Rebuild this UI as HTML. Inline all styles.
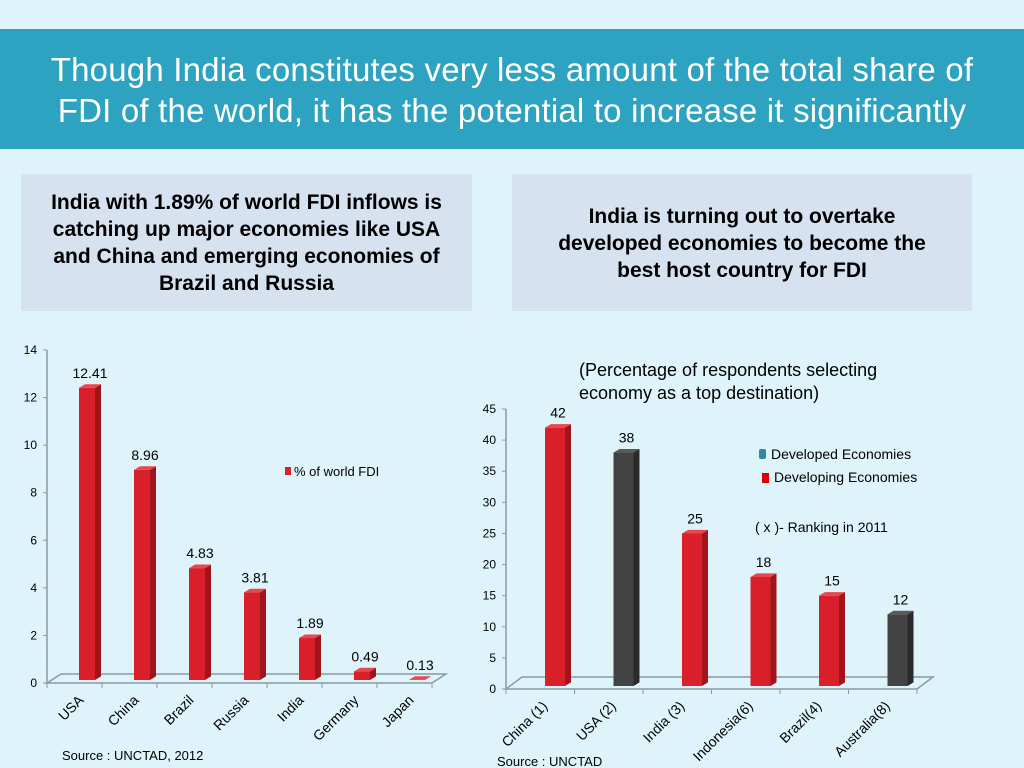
<!DOCTYPE html>
<html><head><meta charset="utf-8"><style>
body{margin:0;width:1024px;height:768px;background:#dff4fa;font-family:"Liberation Sans",sans-serif;position:relative;overflow:hidden}
#hdr{position:absolute;left:0;top:29px;width:1024px;height:120px;background:#2ea3c1;color:#fff;font-size:33px;line-height:41px;text-align:center;box-sizing:border-box;padding-top:20px;letter-spacing:0.2px}
.box{position:absolute;top:174px;height:137px;background:#d6e2f0;font-weight:bold;font-size:21px;line-height:27px;text-align:center;box-sizing:border-box}
svg{position:absolute;left:0;top:0}
</style></head><body>
<div id="hdr">Though India constitutes very less amount of the total share of<br>FDI of the world, it has the potential to increase it significantly</div>
<div class="box" style="left:21px;width:451px;padding-top:15px">India with 1.89% of world FDI inflows is<br>catching up major economies like USA<br>and China and emerging economies of<br>Brazil and Russia</div>
<div class="box" style="left:512px;width:460px;padding-top:29px">India is turning out to overtake<br>developed economies to become the<br>best host country for FDI</div>
<svg id="chart" width="1024" height="768"></svg>
<script>
const leftCats=["USA","China","Brazil","Russia","India","Germany","Japan"];
const leftVals=[12.41,8.96,4.83,3.81,1.89,0.49,0.13];
const leftLabels=["12.41","8.96","4.83","3.81","1.89","0.49","0.13"];
const leftTicks=[0,2,4,6,8,10,12,14];
const rightCats=["China (1)","USA (2)","India (3)","Indonesia(6)","Brazil(4)","Australia(8)"];
const rightVals=[42,38,25,18,15,12];
const rightDeveloped=[false,true,false,false,false,true];
const rightTicks=[0,5,10,15,20,25,30,35,40,45];
const svg=document.getElementById('chart');
const NS='http://www.w3.org/2000/svg';
function mk(t,a,txt){const e=document.createElementNS(NS,t);for(const k in a)e.setAttribute(k,a[k]);if(txt!==undefined)e.textContent=txt;svg.appendChild(e);return e;}
function drawChart(o){
  const y=v=>o.y0-(v-o.min)/(o.max-o.min)*(o.y0-o.y1);
  const n=o.cats.length, xEnd=o.x0+n*o.step;
  let f=mk('polygon',{points:`${o.x0},${o.y0} ${o.x0+o.dx},${o.y0-o.dy} ${xEnd+o.dx},${o.y0-o.dy} ${xEnd},${o.y0}`,fill:'none',stroke:'#8a9aa0','stroke-width':1.5});
  
  let ax=mk('line',{x1:o.x0,y1:o.y1,x2:o.x0,y2:o.y0,stroke:'#8a9aa0','stroke-width':1.5});
  
  o.ticks.forEach(t=>{
    mk('line',{x1:o.x0-4,y1:y(t),x2:o.x0,y2:y(t),stroke:'#8a9aa0'});
    const tl=mk('text',{x:o.x0-10,y:y(t)+4,'font-size':12,'text-anchor':'end',fill:'#000'},t);
    
  });
  for(let i=0;i<=n;i++)mk('line',{x1:o.x0+i*o.step,y1:o.y0,x2:o.x0+i*o.step,y2:o.y0+5,stroke:'#8a9aa0'});
  o.cats.forEach((c,i)=>{
    const bx=o.x0+i*o.step+o.off, top=y(o.vals[i]), bot=o.y0-3, w=o.bw, d=o.bd;
    const col=o.colors[i][0], side=o.colors[i][1];
    const g=mk('g',{});
    
    
    const r=document.createElementNS(NS,'rect');r.setAttribute('x',bx);r.setAttribute('y',top);r.setAttribute('width',w);r.setAttribute('height',Math.max(0,bot-top));r.setAttribute('fill',col);g.appendChild(r);
    const s=document.createElementNS(NS,'polygon');s.setAttribute('points',`${bx+w},${top} ${bx+w+d},${top-d*0.6} ${bx+w+d},${bot-d*0.6} ${bx+w},${bot}`);s.setAttribute('fill',side);g.appendChild(s);
    const tp=document.createElementNS(NS,'polygon');tp.setAttribute('points',`${bx},${top} ${bx+d},${top-d*0.6} ${bx+w+d},${top-d*0.6} ${bx+w},${top}`);tp.setAttribute('fill',o.colors[i][2]);g.appendChild(tp);
    const vl=mk('text',{x:bx+w/2+3,y:top-o.lblGap,'font-size':14,'text-anchor':'middle',fill:'#000'},o.labels[i]);
    
    const cx=o.x0+(i+0.5)*o.step+o.catShift;
    const cl=mk('text',{x:cx,y:o.y0+18,'font-size':14,'text-anchor':'end',fill:'#000',transform:`rotate(-45 ${cx} ${o.y0+18})`},c);
    
  });
}
drawChart({id:'left',cats:leftCats,vals:leftVals,labels:leftLabels,ticks:leftTicks,min:0,max:14,x0:47,y0:683,y1:350,step:55,off:32,bw:16,bd:6,dx:14,dy:9,lblGap:10,catShift:10,
  colors:leftCats.map(()=>['#d81f2a','#a0141c','#e8474f'])});
drawChart({id:'right',cats:rightCats,vals:rightVals,labels:rightVals.map(String),ticks:rightTicks,min:0,max:45,x0:506,y0:689,y1:409,step:68.5,off:39,bw:20,bd:6,dx:16,dy:12,lblGap:10,catShift:8,
  colors:rightDeveloped.map(d=>d?['#434343','#2a2a2a','#5a5a5a']:['#d81f2a','#a0141c','#e8474f'])});
function t(x,y,s,txt,name,anchor){const e=mk('text',{x:x,y:y,'font-size':s,fill:'#000','text-anchor':anchor||'start'},txt);}
const l1=mk('rect',{x:285,y:467,width:6,height:8,fill:'#d81f2a'});
t(294,476,13,'% of world FDI','left-legend-label');
t(62,760,13,'Source : UNCTAD, 2012','left-source-note');
t(579,376,18,'(Percentage of respondents selecting','right-chart-subtitle-1');
t(579,399,18,'economy as a top destination)','right-chart-subtitle-2');
const l2=mk('rect',{x:759,y:449,width:7,height:10,rx:2,fill:'#2a8aa0'});
t(771,459,14,'Developed Economies','legend-label-developed');
const l3=mk('rect',{x:762,y:473,width:7,height:10,fill:'#d00'});
t(774,482,14,'Developing Economies','legend-label-developing');
t(755,532,14,'( x )- Ranking in 2011','ranking-note');
t(497,766,13,'Source : UNCTAD','right-source-note');
</script>
</body></html>
